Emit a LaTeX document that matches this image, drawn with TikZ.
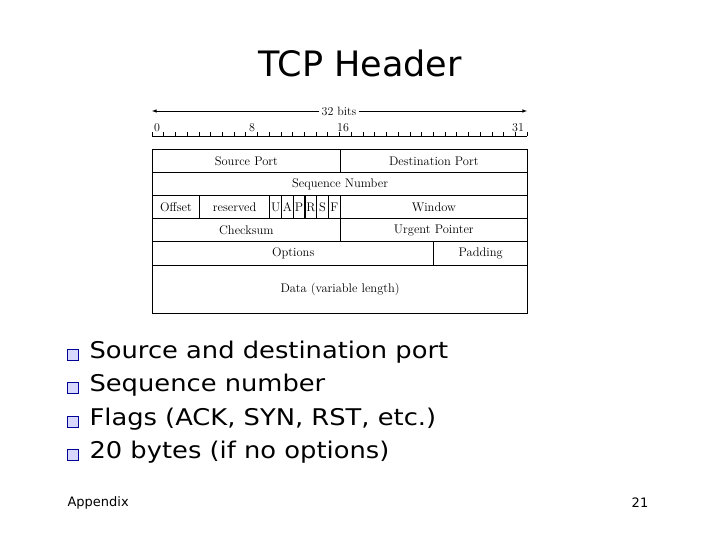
\documentclass[tikz,border=0pt]{standalone}
\usepackage{fontspec}
\setmainfont{DejaVu Sans}
\newfontfamily\lmr{Latin Modern Roman}
\newfontfamily\widefont[FakeStretch=1.12]{DejaVu Sans}
\begin{document}
\begin{tikzpicture}[x=1pt,y=-1pt,
  fld/.style={draw,line width=1.2pt,anchor=north west,inner sep=0pt,font=\lmr\fontsize{12.5}{13}\selectfont},
  bul/.style={anchor=west,font=\widefont\fontsize{23}{26}\selectfont},
  sq/.style={draw=blue!60!black,fill=blue!15,line width=1pt,minimum size=11pt,inner sep=0pt}]
\useasboundingbox (0,0) rectangle (720,540);
\node (title) at (360,63) {\fontsize{35}{42}\selectfont TCP Header};
\def\bw{11.71875}
% ruler
\draw[line width=0.6pt] (152,136) -- (527,136);
\foreach \i in {0,...,32} \draw[line width=0.6pt] (152+\i*\bw,136) -- (152+\i*\bw,132);
\node[font=\lmr\fontsize{12}{13}\selectfont] (b0) at (157,128) {0};
\node[font=\lmr\fontsize{12}{13}\selectfont] (b8) at (252,128) {8};
\node[font=\lmr\fontsize{12}{13}\selectfont] (b16) at (343,128) {16};
\node[font=\lmr\fontsize{12}{13}\selectfont] (b31) at (518,128) {31};
\node[font=\lmr\fontsize{12}{13}\selectfont,fill=white,inner sep=2pt] (bits) at (339,111) {32 bits};
\coordinate (al) at (152,111); \coordinate (ar) at (527,111);
\draw[-latex,line width=0.6pt] (bits) -- (ar);
\draw[-latex,line width=0.6pt] (bits) -- (al);
% rows
\newcommand\fieldbox[6]{\node[fld,minimum width={(#3-#2)*\bw},minimum height=#5-#4] (#1) at (152+#2*\bw,#4) {#6};}
\fieldbox{sp}{0}{16}{149}{172}{Source Port}
\fieldbox{dp}{16}{32}{149}{172}{Destination Port}
\fieldbox{sn}{0}{32}{172}{195}{Sequence Number}
\fieldbox{off}{0}{4}{195}{218}{Offset}
\fieldbox{res}{4}{10}{195}{218}{reserved}
\fieldbox{u}{10}{11}{195}{218}{U}
\fieldbox{a}{11}{12}{195}{218}{A}
\fieldbox{p}{12}{13}{195}{218}{P}
\fieldbox{r}{13}{14}{195}{218}{R}
\fieldbox{s}{14}{15}{195}{218}{S}
\fieldbox{f}{15}{16}{195}{218}{F}
\fieldbox{win}{16}{32}{195}{218}{Window}
\fieldbox{cs}{0}{16}{218}{241}{Checksum}
\fieldbox{up}{16}{32}{218}{241}{Urgent Pointer}
\fieldbox{opt}{0}{24}{241}{265}{Options}
\fieldbox{pad}{24}{32}{241}{265}{Padding}
\fieldbox{data}{0}{32}{265}{313}{Data (variable length)}
% bullets
\foreach \y/\t/\n in {352/Source and destination port/l1,385/Sequence number/l2,419/{Flags (ACK, SYN, RST, etc.)}/l3,452/20 bytes (if no options)/l4}{
  \node[sq] (q\n) at (73,\y+3) {};
  \node[bul] (\n) at (86,\y) {\t};
}
\node[anchor=west,font=\fontsize{13}{15}\selectfont] (app) at (64,503) {Appendix};
\node[font=\fontsize{13}{15}\selectfont] (pg) at (640,503) {21};
\end{tikzpicture}
\end{document}
